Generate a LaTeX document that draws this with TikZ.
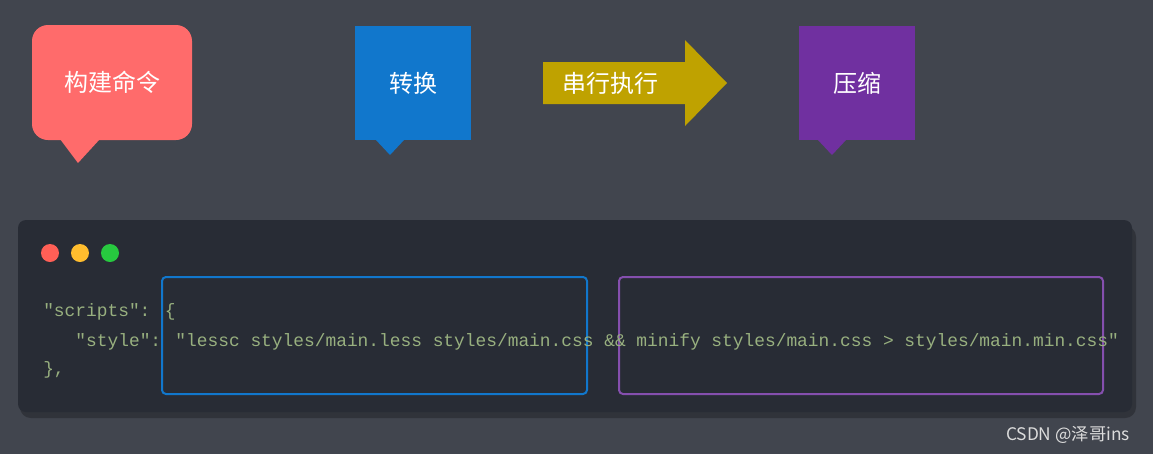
\documentclass[tikz,border=0pt]{standalone}
\usepackage{fontspec}
\setmainfont{Liberation Sans}
\newfontfamily\cjk{Noto Sans CJK SC}
\newfontfamily\codefont{Liberation Mono}
\definecolor{bg}{HTML}{41454E}
\definecolor{term}{HTML}{282C35}
\definecolor{redc}{HTML}{FF6B6B}
\definecolor{bluec}{HTML}{1177CC}
\definecolor{goldc}{HTML}{BFA200}
\definecolor{purc}{HTML}{7030A0}
\definecolor{codec}{HTML}{98B07F}
\begin{document}
\begin{tikzpicture}[x=0.75pt,y=-0.75pt,
  lbl/.style={text=white,font=\cjk\fontsize{18pt}{20pt}\selectfont},
  code/.style={text=codec,font=\codefont\fontsize{13.4pt}{15pt}\selectfont,anchor=base west,inner sep=0},
  hl/.style={line width=1.5pt,rounded corners=3pt}]
\useasboundingbox (0,0) rectangle (1153,454);
\fill[bg] (0,0) rectangle (1153,454);
% callouts
\fill[redc,rounded corners=12pt] (32,25) rectangle (192,140);
\fill[redc] (60,139) -- (78,163) -- (100,139) -- cycle;
\node[lbl] (c1) at (112,82) {构建命令};
\fill[bluec] (355,26) rectangle (471,140);
\fill[bluec] (375,139) -- (390,155) -- (405,139) -- cycle;
\node[lbl] (c2) at (413,83) {转换};
\fill[goldc] (543,62) -- (685,62) -- (685,40) -- (727,83) -- (685,126) -- (685,104) -- (543,104) -- cycle;
\node[lbl] (c3) at (610,83) {串行执行};
\fill[purc] (799,26) rectangle (915,140);
\fill[purc] (817,139) -- (832,155) -- (847,139) -- cycle;
\node[lbl] (c4) at (857,83) {压缩};
% terminal
\fill[black,opacity=0.25,rounded corners=8pt] (20,226) rectangle (1136,418);
\fill[term,rounded corners=6pt] (18,220) rectangle (1132,412);
\fill[fill={rgb,255:red,255;green,95;blue,86}] (50,253) circle (9);
\fill[fill={rgb,255:red,255;green,189;blue,46}] (80,253) circle (9);
\fill[fill={rgb,255:red,39;green,201;blue,63}] (110,253) circle (9);
\draw[bluec,hl] (162,277) rectangle (587,394);
\draw[purc!85!white,hl] (619,277) rectangle (1103,394);
\node[code] (l1) at (43,316) {"scripts": \{};
\node[code] (l2) at (43,346) {\ \ \ "style": "lessc styles/main.less styles/main.css \&\& minify styles/main.css > styles/main.min.css"};
\node[code] (l3) at (43,374) {\},};
\node[text={rgb,255:red,220;green,220;blue,220},font=\cjk\fontsize{13pt}{15pt}\selectfont] (wm) at (1068,435) {CSDN @泽哥ins};
\end{tikzpicture}
\end{document}
